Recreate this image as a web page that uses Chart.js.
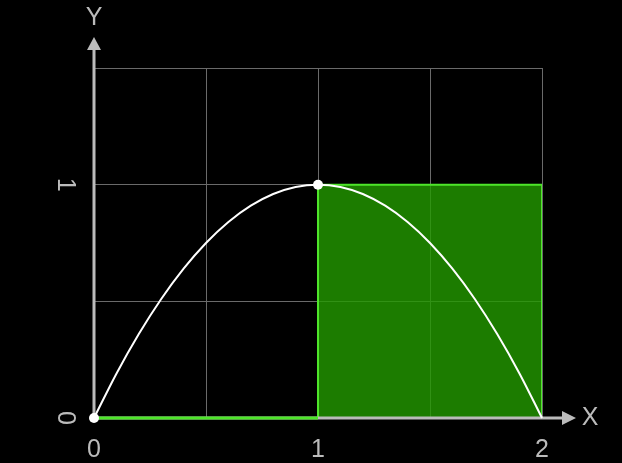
<!DOCTYPE html>
<html>
<head>
<meta charset="utf-8">
<script src="https://cdn.jsdelivr.net/npm/chart.js@4/dist/chart.umd.min.js"></script>
<style>
  html, body { margin: 0; padding: 0; background: #000; }
  canvas { display: block; }
</style>
</head>
<body>
<canvas id="chart" width="622" height="463"></canvas>
<script>
// curve
var CURVE_X = [0, 0.1, 0.2, 0.3, 0.4, 0.5, 0.6, 0.7, 0.8, 0.9, 1, 1.1, 1.2, 1.3, 1.4, 1.5, 1.6, 1.7, 1.8, 1.9, 2];
var CURVE_Y = [0, 0.19, 0.36, 0.51, 0.64, 0.75, 0.84, 0.91, 0.96, 0.99, 1, 0.99, 0.96, 0.91, 0.84, 0.75, 0.64, 0.51, 0.36, 0.19, 0];
// green rectangle outline (left, top, right edges)
var RECT_X = [1, 1, 2, 2];
var RECT_Y = [0, 1, 1, 0];
// green segment along the x axis
var BASE_X = [0, 1];
var BASE_Y = [0, 0];
// white dots
var DOT_X = [0, 1];
var DOT_Y = [0, 1];
var X_TICKS = [0, 1, 2];
var Y_TICKS = [0, 1];

var AXIS = '#bbbbbb',
    GRID = '#6a6a6a',
    GREEN = '#4ee62a',
    FONT = 'Liberation Sans, Arial, sans-serif';

function pts(xs, ys) {
  return xs.map(function (x, i) { return {x: x, y: ys[i]}; });
}

// axes with arrows and the X / Y letters, drawn right after the rectangle
var axesPlugin = {
  id: 'axes',
  afterDatasetDraw: function (chart, args) {
    if (args.index !== 0) return;
    var ctx = chart.ctx, a = chart.chartArea;
    var x0 = chart.scales.x.getPixelForValue(0);
    var y0 = chart.scales.y.getPixelForValue(0);
    ctx.save();
    ctx.strokeStyle = AXIS;
    ctx.fillStyle = AXIS;
    ctx.lineWidth = 3;
    ctx.beginPath();
    ctx.moveTo(x0, y0);
    ctx.lineTo(x0, a.top - 20);
    ctx.moveTo(x0, y0);
    ctx.lineTo(a.right + 22, y0);
    ctx.stroke();
    // arrow heads
    ctx.beginPath();
    ctx.moveTo(x0, a.top - 31);
    ctx.lineTo(x0 - 7, a.top - 18);
    ctx.lineTo(x0 + 7, a.top - 18);
    ctx.closePath();
    ctx.fill();
    ctx.beginPath();
    ctx.moveTo(a.right + 34, y0);
    ctx.lineTo(a.right + 20, y0 - 7);
    ctx.lineTo(a.right + 20, y0 + 7);
    ctx.closePath();
    ctx.fill();
    ctx.font = '25px ' + FONT;
    ctx.textAlign = 'center';
    ctx.textBaseline = 'middle';
    ctx.fillText('Y', x0, a.top - 50);
    ctx.fillText('X', a.right + 48, y0);
    ctx.restore();
  }
};

var ctx = document.getElementById('chart').getContext('2d');
var chart = new Chart(ctx, {
  type: 'scatter',
  data: {
    datasets: [
      {
        data: pts(RECT_X, RECT_Y),
        showLine: true,
        borderColor: GREEN,
        borderWidth: 2,
        backgroundColor: 'rgba(35,155,0,0.8)',
        fill: 'origin',
        pointRadius: 0,
        order: 4
      },
      {
        data: pts(BASE_X, BASE_Y),
        showLine: true,
        borderColor: GREEN,
        borderWidth: 3,
        pointRadius: 0,
        clip: false,
        order: 3
      },
      {
        data: pts(CURVE_X, CURVE_Y),
        showLine: true,
        borderColor: '#ffffff',
        borderWidth: 2,
        cubicInterpolationMode: 'monotone',
        pointRadius: 0,
        clip: false,
        order: 2
      },
      {
        data: pts(DOT_X, DOT_Y),
        pointRadius: 5,
        pointBackgroundColor: '#ffffff',
        pointBorderWidth: 0,
        clip: false,
        order: 1
      }
    ]
  },
  options: {
    responsive: false,
    animation: false,
    devicePixelRatio: 1,
    layout: { padding: { top: 68, right: 80, left: 0, bottom: 0 } },
    plugins: { legend: { display: false }, tooltip: { enabled: false } },
    scales: {
      x: {
        type: 'linear',
        min: 0,
        max: 2,
        border: { display: false },
        grid: { color: GRID, lineWidth: 1, drawTicks: false },
        ticks: {
          stepSize: 0.5,
          padding: 17,
          color: AXIS,
          font: { family: FONT, size: 25 },
          callback: function (v) { return X_TICKS.indexOf(v) >= 0 ? String(v) : ''; }
        },
        afterFit: function (s) { s.height = 45; }
      },
      y: {
        type: 'linear',
        min: 0,
        max: 1.5,
        border: { display: false },
        grid: { color: GRID, lineWidth: 1, drawTicks: false },
        ticks: {
          stepSize: 0.5,
          padding: 22,
          crossAlign: 'center',
          minRotation: -90,
          maxRotation: -90,
          color: AXIS,
          font: { family: FONT, size: 25 },
          callback: function (v) { return Y_TICKS.indexOf(v) >= 0 ? String(v) : ''; }
        },
        afterFit: function (s) { s.width = 94; }
      }
    }
  },
  plugins: [axesPlugin]
});
</script>
</body>
</html>
